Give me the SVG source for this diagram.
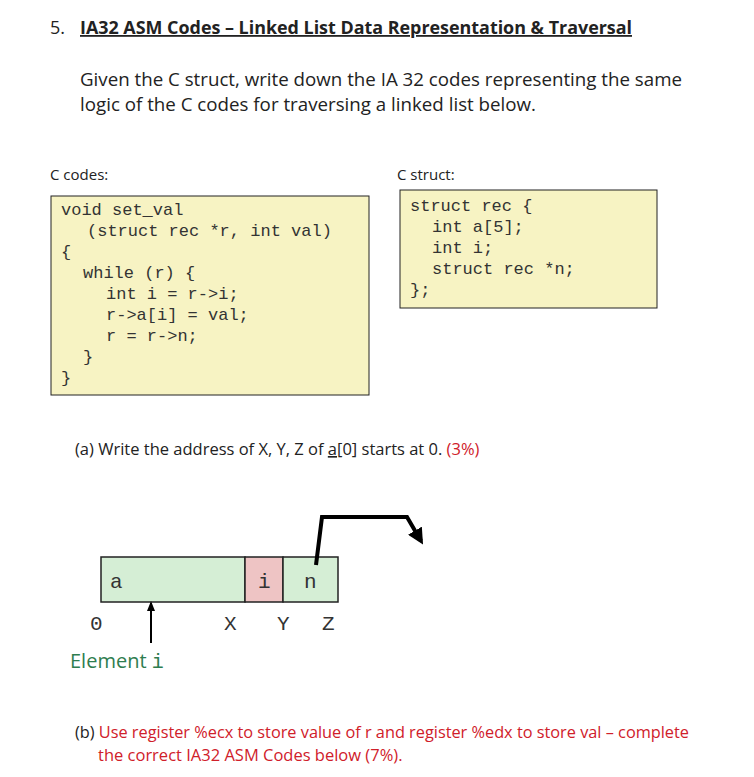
<svg xmlns="http://www.w3.org/2000/svg" width="754" height="777" viewBox="0 0 754 777">
<style>
.t{font-family:"Open Sans","Liberation Sans",sans-serif;fill:#222}
.m{font-family:"Liberation Mono",monospace;font-size:17px;fill:#333}
.r{fill:#d0202a}
.box{fill:#f7f3c3;stroke:#222;stroke-width:1}
.dl{font-family:"Liberation Mono",monospace;font-size:21px;fill:#333}
</style>
<defs>
<marker id="ah" markerWidth="10" markerHeight="10" refX="8" refY="5" orient="auto" markerUnits="userSpaceOnUse" viewBox="0 0 10 10"><path d="M0,1 L10,5 L0,9z" fill="#000"/></marker>
<marker id="ah2" markerWidth="16" markerHeight="16" refX="12" refY="8" orient="auto" markerUnits="userSpaceOnUse" viewBox="0 0 16 16"><path d="M0,0 L16,8 L0,16z" fill="#000"/></marker>
</defs>
<rect width="754" height="777" fill="#fff"/>
<text class="t" x="50" y="34" font-size="18">5.</text>
<text class="t" x="80" y="34" font-size="18" font-weight="bold" text-decoration="underline" textLength="552" lengthAdjust="spacingAndGlyphs">IA32 ASM Codes – Linked List Data Representation &amp; Traversal</text>
<text class="t" x="80" y="86" font-size="18" textLength="602" lengthAdjust="spacingAndGlyphs">Given the C struct, write down the IA 32 codes representing the same</text>
<text class="t" x="80" y="111" font-size="18" textLength="456" lengthAdjust="spacingAndGlyphs">logic of the C codes for traversing a linked list below.</text>
<text class="t" x="50" y="180" font-size="15">C codes:</text>
<text class="t" x="397" y="180" font-size="15">C struct:</text>
<g id="ccode">
<rect class="box" x="51" y="196" width="318" height="199"/>
<text class="m" x="61" y="215">void set_val</text>
<text class="m" x="87" y="236">(struct rec *r, int val)</text>
<text class="m" x="61" y="257">{</text>
<text class="m" x="83" y="278">while (r) {</text>
<text class="m" x="106" y="299">int i = r-&gt;i;</text>
<text class="m" x="106" y="320">r-&gt;a[i] = val;</text>
<text class="m" x="106" y="341">r = r-&gt;n;</text>
<text class="m" x="83" y="362">}</text>
<text class="m" x="61" y="383">}</text>
</g>
<g id="cstruct">
<rect class="box" x="400" y="190" width="257" height="118"/>
<text class="m" x="410" y="211">struct rec {</text>
<text class="m" x="432" y="232">int a[5];</text>
<text class="m" x="432" y="253">int i;</text>
<text class="m" x="432" y="274">struct rec *n;</text>
<text class="m" x="410" y="295">};</text>
</g>
<text class="t" x="75" y="455" font-size="16.5">(a) Write the address of X, Y, Z of <tspan text-decoration="underline">a</tspan>[0] starts at 0. <tspan class="r">(3%)</tspan></text>
<g id="record">
<rect x="101" y="557" width="144" height="45" fill="#d5eed5" stroke="#222" stroke-width="1.5"/>
<rect x="245" y="557" width="38" height="45" fill="#eec4c4" stroke="#222" stroke-width="1.5"/>
<rect x="283" y="557" width="55" height="45" fill="#d5eed5" stroke="#222" stroke-width="1.5"/>
<text class="dl" x="110" y="588">a</text>
<text class="dl" x="258" y="588">i</text>
<text class="dl" x="304" y="588">n</text>
<text class="dl" x="90" y="630">0</text>
<text class="dl" x="224" y="630">X</text>
<text class="dl" x="277" y="630">Y</text>
<text class="dl" x="322" y="630">Z</text>
</g>
<g id="connectors">
<line x1="151" y1="643" x2="151" y2="603" stroke="#000" stroke-width="2" marker-end="url(#ah)"/>
<path d="M316,565 L322,517 L407,517 L421,541" fill="none" stroke="#000" stroke-width="4" marker-end="url(#ah2)"/>
</g>
<text x="70" y="668" font-size="20" fill="#2e7d4f" font-family="Open Sans,Liberation Sans,sans-serif">Element <tspan font-family="Liberation Mono,monospace">i</tspan></text>
<text class="t" x="75" y="738" font-size="16.5" textLength="614" lengthAdjust="spacingAndGlyphs">(b) <tspan class="r">Use register %ecx to store value of r and register %edx to store val – complete</tspan></text>
<text class="t r" x="98" y="761" font-size="16.5">the correct IA32 ASM Codes below (7%).</text>
</svg>
